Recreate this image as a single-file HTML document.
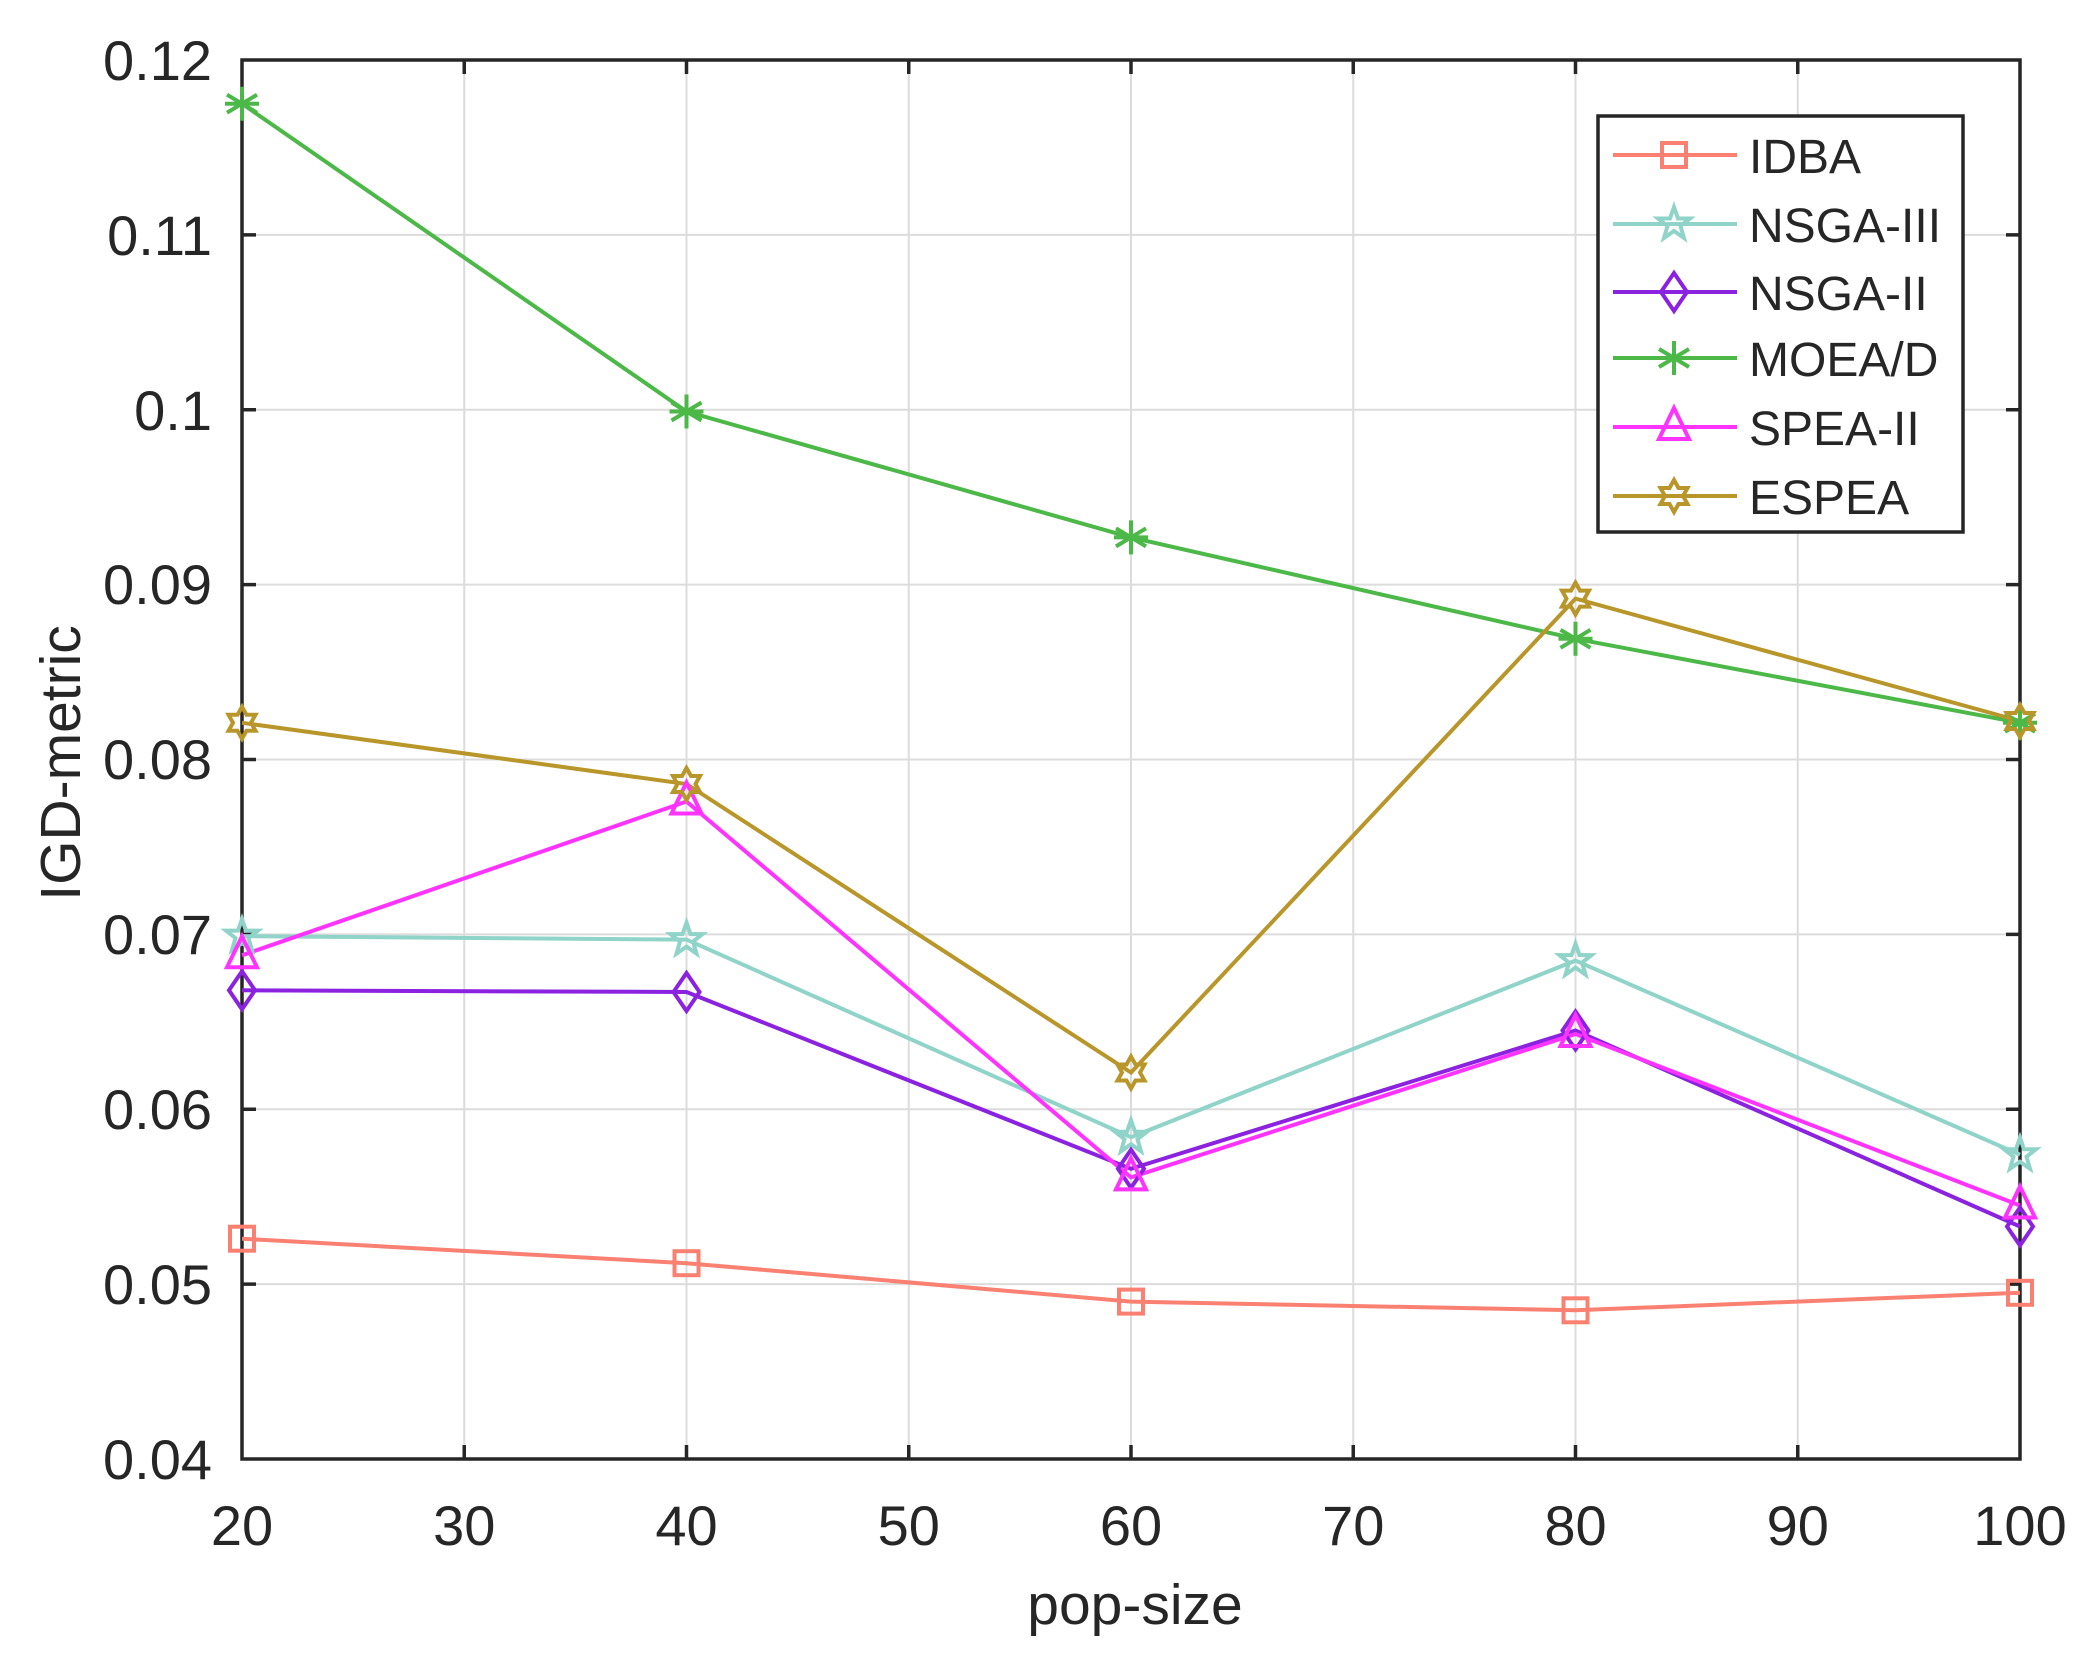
<!DOCTYPE html>
<html><head><meta charset="utf-8"><style>
html,body{margin:0;padding:0;background:#fff;}
svg{display:block;}
text{font-family:"Liberation Sans",Arial,sans-serif;fill:#262626;}
</style></head><body>
<svg width="2088" height="1673" viewBox="0 0 2088 1673" xmlns="http://www.w3.org/2000/svg">
<defs>
<g id="sq"><rect x="-12" y="-12" width="24" height="24" fill="none" stroke-width="4"/></g>
<g id="star"><polygon points="0,-17 4,-5.5 16,-5.5 6.5,2 10,14 0,7 -10,14 -6.5,2 -16,-5.5 -4,-5.5" fill="none" stroke-width="4"/></g>
<g id="dia"><polygon points="0,-19 13,0 0,19 -13,0" fill="none" stroke-width="4"/></g>
<g id="ast"><path d="M0,-17V17M-15,-9L15,9M-15,9L15,-9M-17,0H17" fill="none" stroke-width="4"/></g>
<g id="tri"><polygon points="0,-19 15,12 -15,12" fill="none" stroke-width="4"/></g>
<g id="hex"><polygon points="0,-16 4.5,-8 13.5,-8 9,0 13.5,8 4.5,8 0,16 -4.5,8 -13.5,8 -9,0 -13.5,-8 -4.5,-8" fill="none" stroke-width="4"/></g>
</defs>
<g stroke="#dcdcdc" stroke-width="2">
<line x1="464.25" y1="60" x2="464.25" y2="1459"/><line x1="686.5" y1="60" x2="686.5" y2="1459"/>
<line x1="908.75" y1="60" x2="908.75" y2="1459"/><line x1="1131" y1="60" x2="1131" y2="1459"/>
<line x1="1353.25" y1="60" x2="1353.25" y2="1459"/><line x1="1575.5" y1="60" x2="1575.5" y2="1459"/>
<line x1="1797.75" y1="60" x2="1797.75" y2="1459"/>
<line x1="242" y1="1284.1" x2="2020" y2="1284.1"/><line x1="242" y1="1109.25" x2="2020" y2="1109.25"/>
<line x1="242" y1="934.4" x2="2020" y2="934.4"/><line x1="242" y1="759.5" x2="2020" y2="759.5"/>
<line x1="242" y1="584.6" x2="2020" y2="584.6"/><line x1="242" y1="409.75" x2="2020" y2="409.75"/>
<line x1="242" y1="234.9" x2="2020" y2="234.9"/>
</g>
<rect x="242" y="60" width="1778" height="1399" fill="none" stroke="#262626" stroke-width="3.5"/>
<g stroke="#262626" stroke-width="3.5">
<path d="M464.25,1459v-14M686.5,1459v-14M908.75,1459v-14M1131,1459v-14M1353.25,1459v-14M1575.5,1459v-14M1797.75,1459v-14"/>
<path d="M464.25,60v14M686.5,60v14M908.75,60v14M1131,60v14M1353.25,60v14M1575.5,60v14M1797.75,60v14"/>
<path d="M242,1284.1h14M242,1109.25h14M242,934.4h14M242,759.5h14M242,584.6h14M242,409.75h14M242,234.9h14"/>
<path d="M2020,1284.1h-14M2020,1109.25h-14M2020,934.4h-14M2020,759.5h-14M2020,584.6h-14M2020,409.75h-14M2020,234.9h-14"/>
</g>
<g font-size="56" text-anchor="end">
<text x="212" y="1479">0.04</text><text x="212" y="1304">0.05</text><text x="212" y="1129">0.06</text>
<text x="212" y="954">0.07</text><text x="212" y="779">0.08</text><text x="212" y="604">0.09</text>
<text x="212" y="430">0.1</text><text x="212" y="255">0.11</text><text x="212" y="80">0.12</text>
</g>
<g font-size="56" text-anchor="middle">
<text x="242" y="1545">20</text><text x="464.25" y="1545">30</text><text x="686.5" y="1545">40</text>
<text x="908.75" y="1545">50</text><text x="1131" y="1545">60</text><text x="1353.25" y="1545">70</text>
<text x="1575.5" y="1545">80</text><text x="1797.75" y="1545">90</text><text x="2020" y="1545">100</text>
</g>
<text x="1135" y="1624" font-size="57" text-anchor="middle">pop-size</text>
<text transform="translate(80,763) rotate(-90)" font-size="57" text-anchor="middle">IGD-metric</text>
<g fill="none" stroke-width="4">
<polyline stroke="#fa8072" points="242,1238.7 686.5,1263.2 1131,1301.6 1575.5,1310.3 2020,1292.8"/>
<polyline stroke="#8fd3c9" points="242,936.1 686.5,939.6 1131,1137.2 1575.5,960.6 2020,1154.7"/>
<polyline stroke="#8a22e0" points="242,990.3 686.5,992 1131,1168.8 1575.5,1030.5 2020,1226.5"/>
<polyline stroke="#4cb848" points="242,103.7 686.5,411.5 1131,537.4 1575.5,638.8 2020,722.8"/>
<polyline stroke="#ff33ff" points="242,955.3 686.5,801.5 1131,1177.4 1575.5,1034 2020,1205.5"/>
<polyline stroke="#b8962a" points="242,722.8 686.5,784 1131,1072.5 1575.5,598.6 2020,721"/>
</g>
<g stroke="#fa8072"><use href="#sq" x="242" y="1238.7"/><use href="#sq" x="686.5" y="1263.2"/><use href="#sq" x="1131" y="1301.6"/><use href="#sq" x="1575.5" y="1310.3"/><use href="#sq" x="2020" y="1292.8"/></g>
<g stroke="#8fd3c9"><use href="#star" x="242" y="936.1"/><use href="#star" x="686.5" y="939.6"/><use href="#star" x="1131" y="1137.2"/><use href="#star" x="1575.5" y="960.6"/><use href="#star" x="2020" y="1154.7"/></g>
<g stroke="#8a22e0"><use href="#dia" x="242" y="990.3"/><use href="#dia" x="686.5" y="992"/><use href="#dia" x="1131" y="1168.8"/><use href="#dia" x="1575.5" y="1030.5"/><use href="#dia" x="2020" y="1226.5"/></g>
<g stroke="#4cb848"><use href="#ast" x="242" y="103.7"/><use href="#ast" x="686.5" y="411.5"/><use href="#ast" x="1131" y="537.4"/><use href="#ast" x="1575.5" y="638.8"/><use href="#ast" x="2020" y="722.8"/></g>
<g stroke="#ff33ff"><use href="#tri" x="242" y="955.3"/><use href="#tri" x="686.5" y="801.5"/><use href="#tri" x="1131" y="1177.4"/><use href="#tri" x="1575.5" y="1034"/><use href="#tri" x="2020" y="1205.5"/></g>
<g stroke="#b8962a"><use href="#hex" x="242" y="722.8"/><use href="#hex" x="686.5" y="784"/><use href="#hex" x="1131" y="1072.5"/><use href="#hex" x="1575.5" y="598.6"/><use href="#hex" x="2020" y="721"/></g>
<rect x="1598" y="116" width="365" height="416" fill="#fff" stroke="#262626" stroke-width="3.5"/>
<g stroke-width="4">
<line x1="1613" y1="155" x2="1737" y2="155" stroke="#fa8072"/><use href="#sq" x="1674" y="155" stroke="#fa8072"/>
<line x1="1613" y1="224" x2="1737" y2="224" stroke="#8fd3c9"/><use href="#star" x="1674" y="224" stroke="#8fd3c9"/>
<line x1="1613" y1="292" x2="1737" y2="292" stroke="#8a22e0"/><use href="#dia" x="1674" y="292" stroke="#8a22e0"/>
<line x1="1613" y1="358" x2="1737" y2="358" stroke="#4cb848"/><use href="#ast" x="1674" y="358" stroke="#4cb848"/>
<line x1="1613" y1="427" x2="1737" y2="427" stroke="#ff33ff"/><use href="#tri" x="1674" y="427" stroke="#ff33ff"/>
<line x1="1613" y1="496" x2="1737" y2="496" stroke="#b8962a"/><use href="#hex" x="1674" y="496" stroke="#b8962a"/>
</g>
<g font-size="48">
<text x="1749" y="173">IDBA</text><text x="1749" y="242">NSGA-III</text><text x="1749" y="310">NSGA-II</text>
<text x="1749" y="376">MOEA/D</text><text x="1749" y="445">SPEA-II</text><text x="1749" y="514">ESPEA</text>
</g>
</svg>
</body></html>
